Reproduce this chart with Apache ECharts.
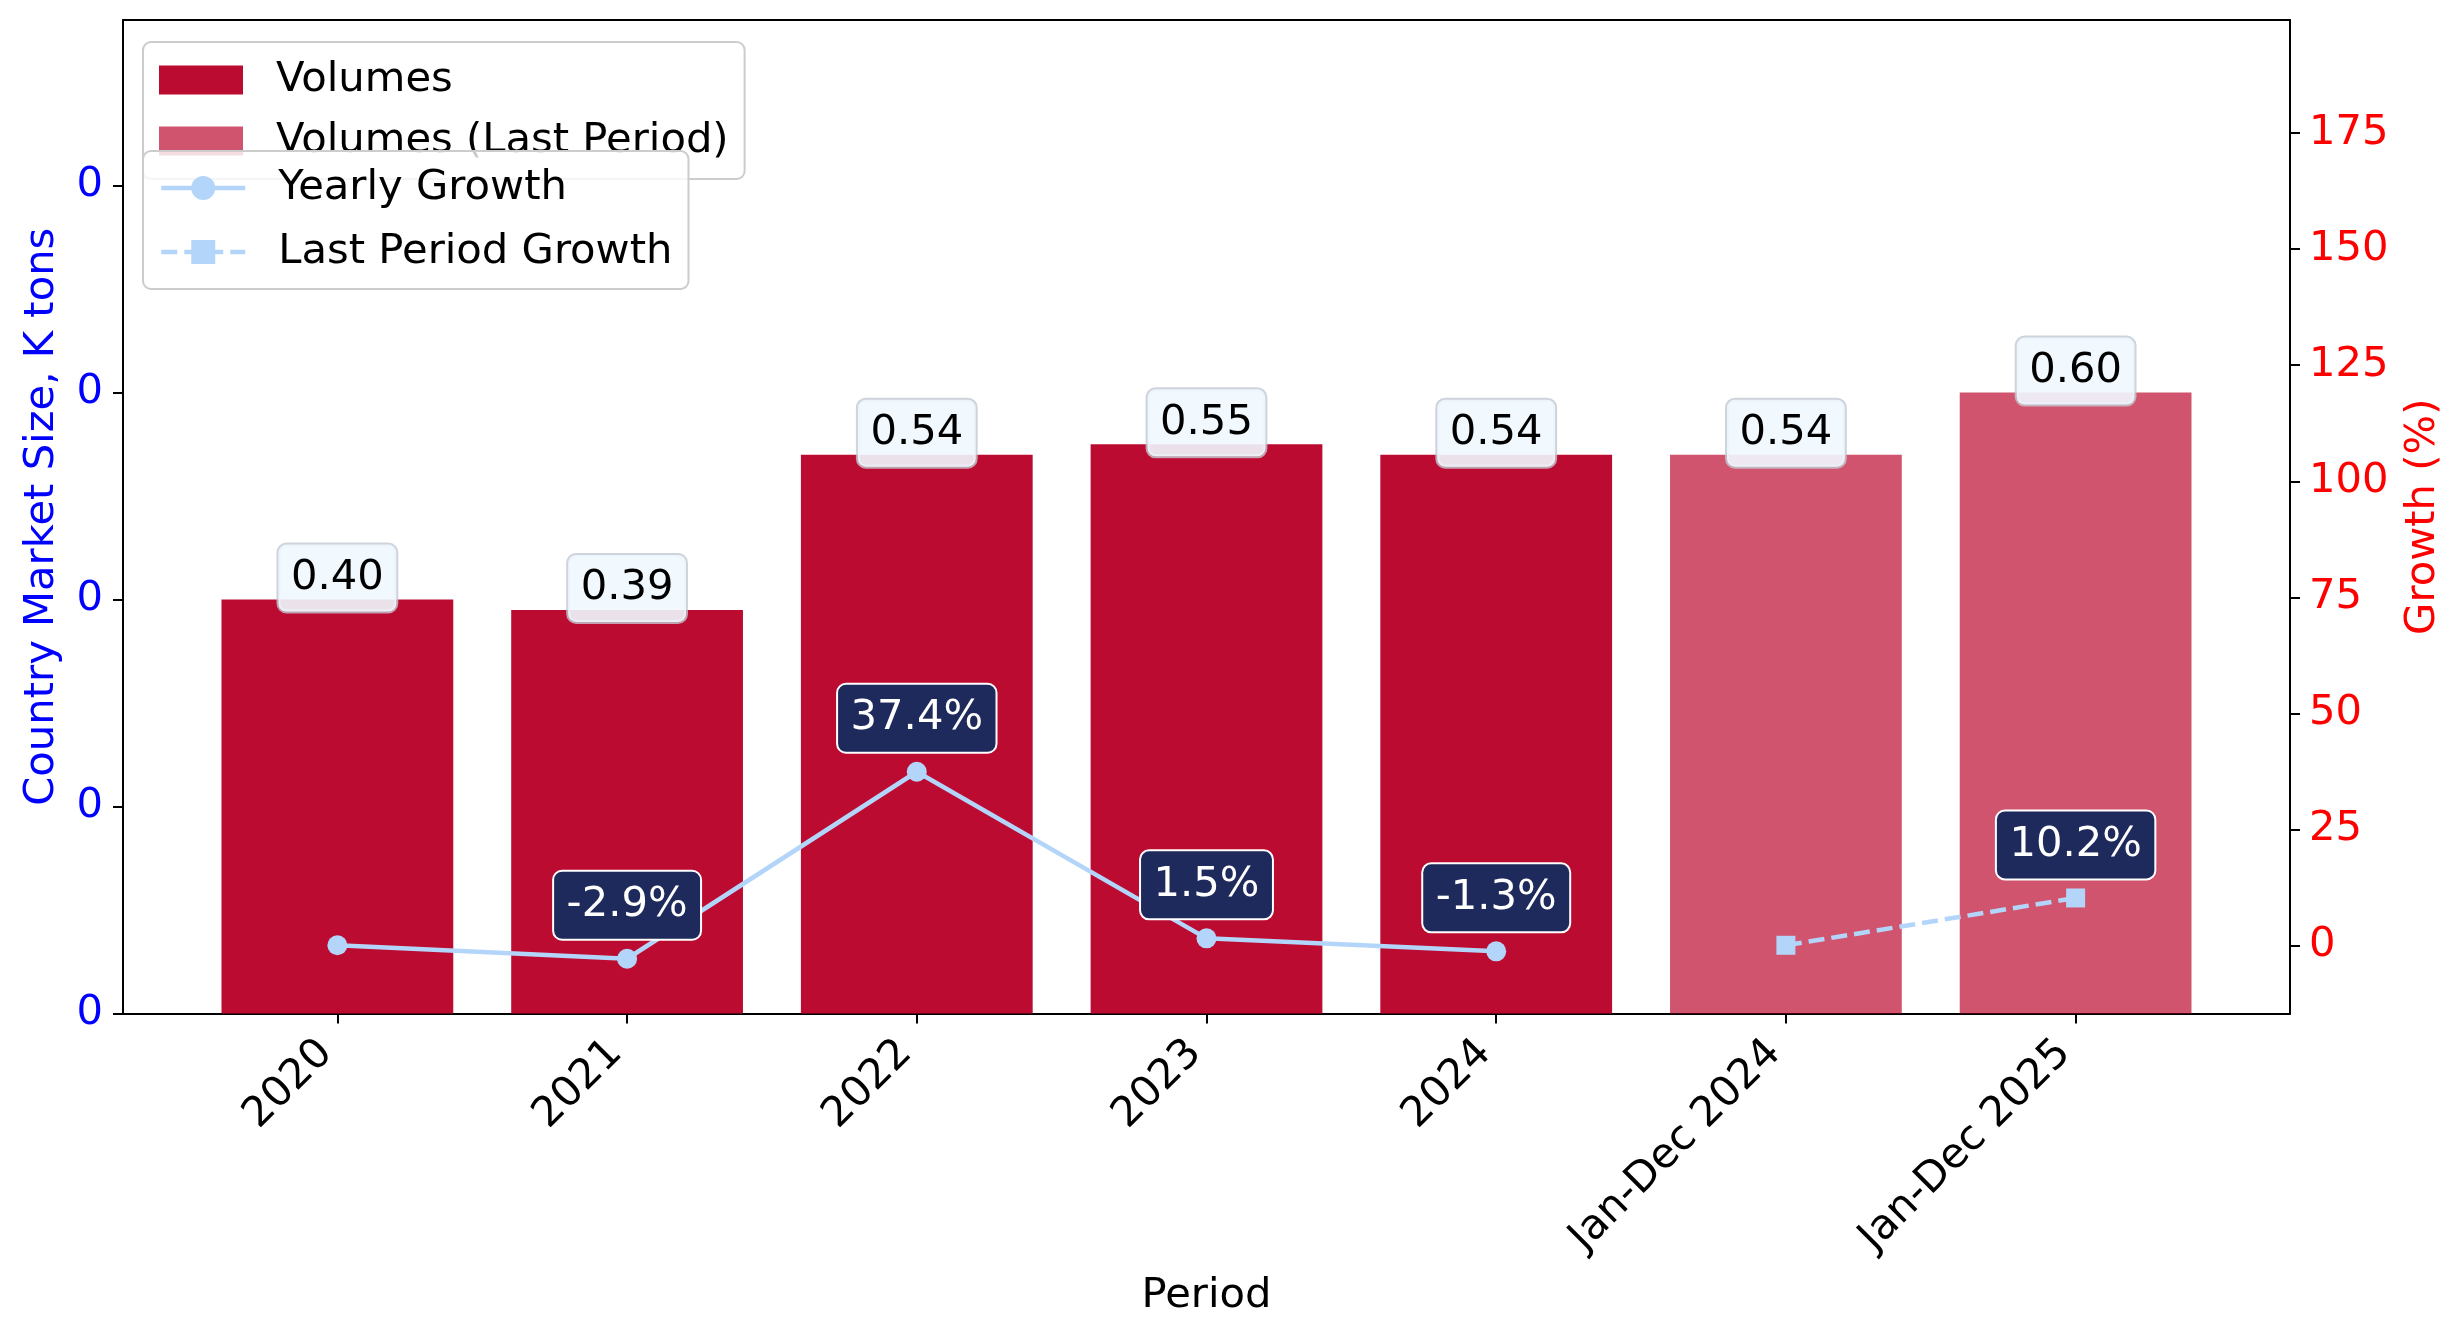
<!DOCTYPE html>
<html>
<head>
<meta charset="utf-8">
<title>Country Market Size</title>
<script src="https://cdn.jsdelivr.net/npm/echarts@6/dist/echarts.min.js"></script>
<style>
  html, body { margin: 0; padding: 0; background: #fff; }
  #chart { width: 2464px; height: 1338px; }
</style>
</head>
<body>
<div id="chart"></div>
<script>
// data
const periods = ['2020', '2021', '2022', '2023', '2024', 'Jan-Dec 2024', 'Jan-Dec 2025']
const volumes = [0.40, 0.39, 0.54, 0.55, 0.54]
const lastPeriodVolumes = [0.54, 0.60]
const yearlyGrowth = [0, -2.9, 37.4, 1.5, -1.3]
const lastPeriodGrowth = [0, 10.2]
const leftTicks = [0, 0.2, 0.4, 0.6, 0.8]
const rightTicks = [0, 25, 50, 75, 100, 125, 150, 175]

const FONT = 'DejaVu Sans'
const FS = 41.7
const BAR_RED = '#BC0B31'
const BAR_RED_LIGHT = 'rgba(188,11,49,0.7)'
const LINE_BLUE = '#B4D5FA'
const NAVY = '#1F2A5C'
const LINE_W = 4.5

const xIdx = periods.map((_, i) => i)
const lastOffset = volumes.length

// x positions on the value axis
const volumeData = volumes.map((v, i) => [i, v])
const lastVolumeData = lastPeriodVolumes.map((v, i) => [lastOffset + i, v])
const yearlyData = yearlyGrowth.map((v, i) => ({
  value: [i, v],
  label: { show: i > 0 },
}))
const lastGrowthData = lastPeriodGrowth.map((v, i) => ({
  value: [lastOffset + i, v],
  label: { show: i > 0 },
}))

const barLabel = {
  show: true,
  position: 'top',
  distance: -12,
  formatter: p => p.value[1].toFixed(2),
  fontFamily: FONT,
  fontSize: FS,
  lineHeight: 48,
  color: '#000',
  backgroundColor: 'rgba(240,248,255,0.9)',
  borderColor: 'rgba(195,200,210,0.8)',
  borderWidth: 2,
  borderRadius: 8,
  padding: [9.5, 12.5],
}

const growthLabel = {
  position: 'top',
  distance: 10,
  formatter: p => p.value[1].toFixed(1) + '%',
  fontFamily: FONT,
  fontSize: FS,
  lineHeight: 48,
  color: '#fff',
  backgroundColor: NAVY,
  borderColor: '#fff',
  borderWidth: 2,
  borderRadius: 8,
  padding: [9.5, 12.5],
}

const axisLine = { show: true, onZero: false, lineStyle: { color: '#000', width: 2 } }
const tickStyle = { color: '#000', width: 2 }

const legendBase = {
  orient: 'vertical',
  left: 143,
  backgroundColor: 'rgba(255,255,255,0.8)',
  borderColor: '#cccccc',
  borderWidth: 2,
  borderRadius: 8,
  itemWidth: 84,
  textStyle: {
    fontFamily: FONT,
    fontSize: FS,
    lineHeight: 48,
    color: '#000',
    padding: [0, 0, 0, 28],
  },
}

const option = {
  animation: false,
  backgroundColor: '#fff',
  textStyle: { fontFamily: FONT },
  grid: { left: 123, right: 174, top: 20, bottom: 324.5 },
  legend: [
    {
      ...legendBase,
      top: 42,
      z: 4,
      padding: [14, 16],
      itemGap: 13,
      itemHeight: 29,
      icon: 'rect',
      data: ['Volumes', 'Volumes (Last Period)'],
    },
    {
      ...legendBase,
      top: 151,
      z: 6,
      padding: [13, 16],
      itemGap: 16,
      itemHeight: 30,
      lineStyle: { width: LINE_W },
      data: [
        { name: 'Yearly Growth', lineStyle: { width: LINE_W } },
        { name: 'Last Period Growth', lineStyle: { width: LINE_W } },
      ],
    },
  ],
  xAxis: [
    {
      type: 'value',
      position: 'bottom',
      min: -0.74,
      max: 6.74,
      axisLine,
      axisTick: { show: true, customValues: xIdx, length: 10, lineStyle: tickStyle },
      axisLabel: {
        customValues: xIdx,
        formatter: v => periods[Math.round(v)],
        rotate: 45,
        margin: 22,
        padding: [0, 16, 0, 0],
        fontFamily: FONT,
        fontSize: FS,
        color: '#000',
      },
      splitLine: { show: false },
      name: 'Period',
      nameLocation: 'middle',
      nameGap: 262,
      nameTextStyle: { fontFamily: FONT, fontSize: FS, color: '#000' },
    },
    {
      type: 'value',
      position: 'top',
      min: -0.74,
      max: 6.74,
      axisLine,
      axisTick: { show: false },
      axisLabel: { show: false },
      splitLine: { show: false },
    },
  ],
  yAxis: [
    {
      type: 'value',
      position: 'left',
      min: 0,
      max: 0.96,
      axisLine,
      axisTick: { show: true, customValues: leftTicks, length: 10, lineStyle: tickStyle },
      axisLabel: {
        customValues: leftTicks,
        formatter: v => String(Math.floor(v + 1e-9)),
        margin: 20,
        fontFamily: FONT,
        fontSize: FS,
        color: '#0000FF',
      },
      splitLine: { show: false },
      name: 'Country Market Size, K tons',
      nameLocation: 'middle',
      nameGap: 60,
      nameTextStyle: { fontFamily: FONT, fontSize: FS, color: '#0000FF' },
    },
    {
      type: 'value',
      position: 'right',
      min: -14.7,
      max: 199.4,
      axisLine,
      axisTick: { show: true, customValues: rightTicks, length: 10, lineStyle: tickStyle },
      axisLabel: {
        customValues: rightTicks,
        margin: 19,
        fontFamily: FONT,
        fontSize: FS,
        color: '#FF0000',
      },
      splitLine: { show: false },
      name: 'Growth (%)',
      nameLocation: 'middle',
      nameRotate: 90,
      nameGap: 112,
      nameTextStyle: { fontFamily: FONT, fontSize: FS, color: '#FF0000' },
    },
  ],
  series: [
    {
      name: 'Volumes',
      type: 'bar',
      xAxisIndex: 0,
      yAxisIndex: 0,
      barWidth: '80%',
      barGap: '-100%',
      data: volumeData,
      itemStyle: { color: BAR_RED },
      label: barLabel,
      z: 2,
    },
    {
      name: 'Volumes (Last Period)',
      type: 'bar',
      xAxisIndex: 0,
      yAxisIndex: 0,
      barWidth: '80%',
      barGap: '-100%',
      data: lastVolumeData,
      itemStyle: { color: BAR_RED_LIGHT },
      label: barLabel,
      z: 2,
    },
    {
      name: 'Yearly Growth',
      type: 'line',
      xAxisIndex: 0,
      yAxisIndex: 1,
      data: yearlyData,
      symbol: 'circle',
      symbolSize: 20,
      lineStyle: { color: LINE_BLUE, width: LINE_W },
      itemStyle: { color: LINE_BLUE },
      label: growthLabel,
      z: 5,
    },
    {
      name: 'Last Period Growth',
      type: 'line',
      xAxisIndex: 0,
      yAxisIndex: 1,
      data: lastGrowthData,
      symbol: 'rect',
      symbolSize: 19,
      lineStyle: { color: LINE_BLUE, width: LINE_W, type: [16, 7] },
      itemStyle: { color: LINE_BLUE },
      label: growthLabel,
      z: 5,
    },
  ],
}

const chart = echarts.init(document.getElementById('chart'))
chart.setOption(option)
</script>
</body>
</html>
